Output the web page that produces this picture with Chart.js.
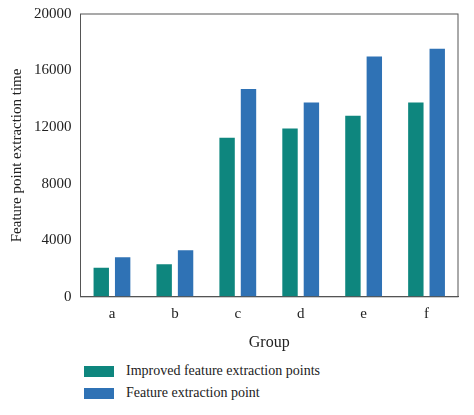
<!DOCTYPE html>
<html><head><script src="https://cdn.jsdelivr.net/npm/chart.js@4"></script>
<style>body{margin:0;background:#fff;font-family:"Liberation Serif",serif}
#wrap{width:474px;height:356px;position:relative}
.lg{position:absolute;left:84px;font-size:14px;color:#222;display:flex;align-items:center}
.lg span{display:inline-block;width:30px;height:11px;margin-right:12px}</style></head>
<body><div id="wrap"><canvas id="c"></canvas></div>
<div class="lg" style="top:363px"><span style="background:#0e867e"></span>Improved feature extraction points</div>
<div class="lg" style="top:385px"><span style="background:#2f72b5"></span>Feature extraction point</div>
<script>
const categories=["a","b","c","d","e","f"];
const improved=[2050,2300,11250,11900,12800,13750];
const feature=[2800,3300,14700,13750,17000,17550];
const ticks=[0,4000,8000,12000,16000,20000];
const font={family:"Liberation Serif",size:15};
new Chart(document.getElementById('c'),{type:'bar',
data:{labels:categories,datasets:[
{label:"Improved feature extraction points",data:improved,backgroundColor:"#0e867e"},
{label:"Feature extraction point",data:feature,backgroundColor:"#2f72b5"}]},
options:{responsive:true,maintainAspectRatio:false,animation:false,
layout:{padding:{top:14,right:16,left:4}},
plugins:{legend:{display:false},tooltip:{enabled:false}},
datasets:{bar:{categoryPercentage:0.68,barPercentage:0.72}},
scales:{
x:{grid:{display:false,drawTicks:false},border:{color:"#555"},ticks:{color:"#222",font,padding:8},
 title:{display:true,text:"Group",color:"#222",font:{family:"Liberation Serif",size:16},padding:{top:2}}},
y:{min:0,max:20000,afterBuildTicks:a=>{a.ticks=ticks.map(v=>({value:v}))},
 grid:{display:false,drawTicks:true,tickLength:5,tickColor:"#555"},border:{color:"#555"},
 ticks:{color:"#222",font,padding:4,callback:v=>String(v)},
 title:{display:true,text:"Feature point extraction time",color:"#222",font:{family:"Liberation Serif",size:15}}}}},
plugins:[{id:'frame',afterDraw(ch){const a=ch.chartArea,c=ch.ctx;c.save();c.strokeStyle="#555";c.lineWidth=1;c.strokeRect(a.left,a.top,a.right-a.left,a.bottom-a.top);c.restore();}}]
});
</script></body></html>
